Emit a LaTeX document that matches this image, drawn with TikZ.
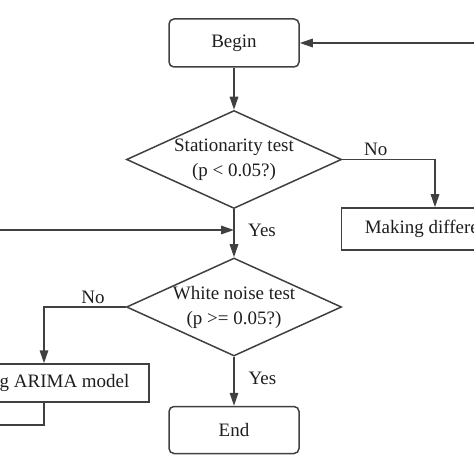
\documentclass[tikz,border=0pt]{standalone}
\usepackage{fontspec}
\setmainfont{Liberation Serif}
\usepackage{xcolor}
\usetikzlibrary{arrows.meta,shapes.geometric,positioning}
\definecolor{flowline}{HTML}{404040}
\definecolor{flowtext}{HTML}{1E1E1E}

\begin{document}
\begin{tikzpicture}[
  >={Triangle[length=2.6mm,width=1.7mm]},
  term/.style={draw=flowline,line width=0.3mm,rounded corners=1mm,minimum width=26mm,minimum height=9.6mm},
  proc/.style={draw=flowline,line width=0.3mm,minimum height=8.4mm},
  decide/.style={draw=flowline,line width=0.3mm,diamond,aspect=2.2,inner sep=0pt,minimum width=43mm,minimum height=19.6mm,align=center},
  conn/.style={flowline,line width=0.3mm},
  every node/.style={font=\fontsize{10.8}{14.2}\selectfont,text=flowtext}
]
  \useasboundingbox (0,0) rectangle (94.8mm,-94.8mm);
  \clip (0,0) rectangle (94.8mm,-94.8mm);
  \node[term] (begin) at (46.8mm,-8.6mm) {Begin};
  \node[decide,below=8.4mm of begin] (stattest) {Stationarity test\\(p < 0.05?)};
  \node[decide,below=9.6mm of stattest] (noisetest) {White noise test\\(p >= 0.05?)};
  \node[term,below=9.8mm of noisetest,minimum height=9.4mm] (end) {End};
  \node[proc,minimum width=37.4mm] (diff) at (87mm,-45.8mm) {Making difference};
  \node[proc,minimum width=42mm,minimum height=7.6mm] (arima) at (8.8mm,-76.6mm) {Fitting ARIMA model};
  \coordinate (join) at (stattest.south |- 0,-46mm);
  \coordinate (loopleft) at (-8mm,-46mm);
  \draw[conn,->] (begin) -- (stattest);
  \draw[conn,->] (stattest.east) -| node[above,pos=.18,inner sep=.6mm]{No} (diff.north);
  \draw[conn,->] (stattest) -- (noisetest);
  \node[right=1.6mm of join] (yesone) {Yes};
  \draw[conn,->] (noisetest.west) -| node[above,pos=.2,inner sep=.6mm]{No} (arima.north);
  \draw[conn,->] (noisetest) -- node[right=1.6mm,pos=.45]{Yes} (end);
  \draw[conn,->] (arima.south) -- ++(0,-4.4mm) -| (loopleft) -- (join);
  \draw[conn,->] (diff.east) -- ++(5mm,0) |- (begin.east);
\end{tikzpicture}
\end{document}
